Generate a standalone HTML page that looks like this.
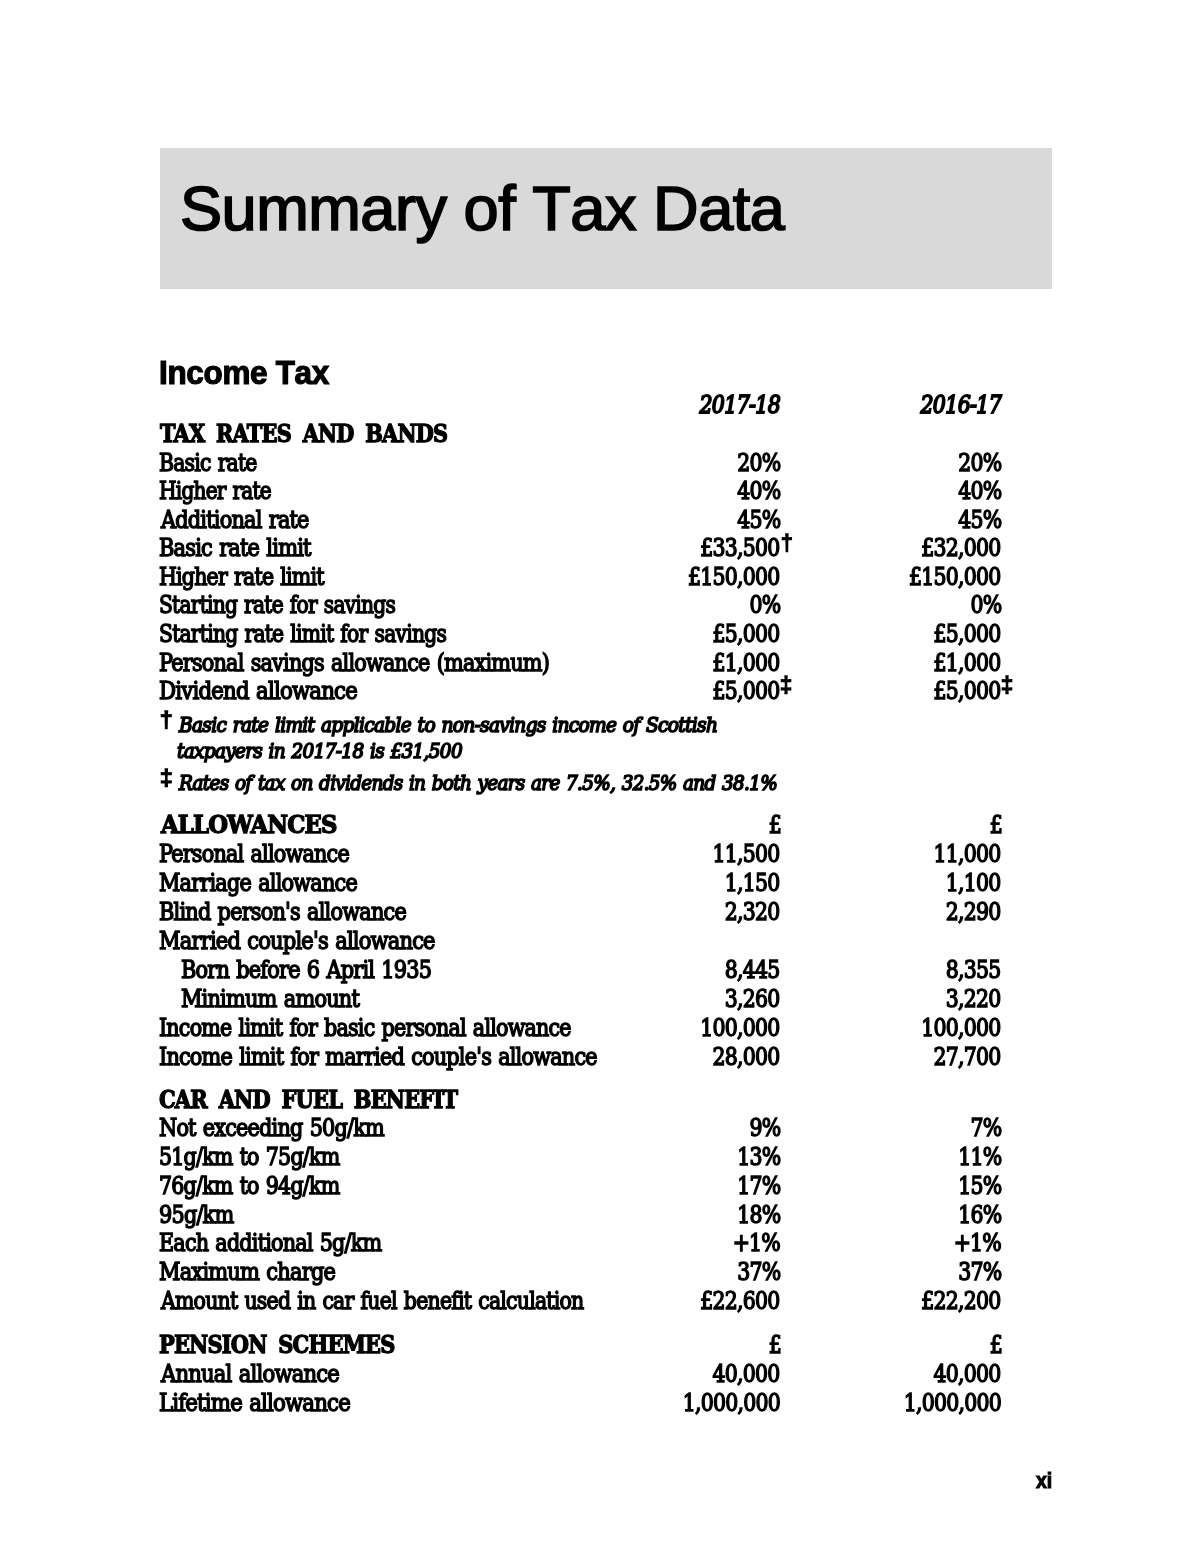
<!DOCTYPE html>
<html lang="en"><head><meta charset="utf-8"><title>Summary of Tax Data</title>
<style>
html,body{margin:0;padding:0;background:#fff;}
body{width:1200px;height:1553px;position:relative;overflow:hidden;color:#000;}
.banner{position:absolute;left:159.7px;top:148.3px;width:892px;height:140.7px;background:#d9d9d9;}
.t{position:absolute;white-space:pre;line-height:1;margin:0;padding:0;display:block;}
.l{transform-origin:0 0;}
.r{transform-origin:100% 0;}
.body{font-family:"DejaVu Serif", "Liberation Serif", serif;font-size:23.4px;font-weight:normal;font-style:normal;-webkit-text-stroke:1.45px #000;letter-spacing:-0.9px;word-spacing:1.5px;}
.bold{font-family:"DejaVu Serif", "Liberation Serif", serif;font-size:24.0px;font-weight:bold;font-style:normal;-webkit-text-stroke:1.3px #000;letter-spacing:-0.9px;word-spacing:6.0px;}
.ital{font-family:"DejaVu Serif", "Liberation Serif", serif;font-size:23.5px;font-weight:normal;font-style:italic;-webkit-text-stroke:1.8px #000;letter-spacing:-0.8px;word-spacing:1.5px;}
.fn{font-family:"DejaVu Serif", "Liberation Serif", serif;font-size:20.8px;font-weight:normal;font-style:italic;-webkit-text-stroke:1.7px #000;letter-spacing:-0.8px;word-spacing:1.5px;}
.title{font-family:"Liberation Sans", sans-serif;font-size:63.5px;font-weight:normal;font-style:normal;-webkit-text-stroke:1.7px #000;letter-spacing:-0.5px;word-spacing:0px;font-kerning:none;}
.h2{font-family:"Liberation Sans", sans-serif;font-size:32.3px;font-weight:bold;font-style:normal;-webkit-text-stroke:1.2px #000;letter-spacing:-0.3px;word-spacing:0px;font-kerning:none;}
.pg{font-family:"Liberation Sans", sans-serif;font-size:21.5px;font-weight:bold;font-style:normal;-webkit-text-stroke:1.1px #000;letter-spacing:0px;word-spacing:0px;}
.sym{font-family:"Liberation Sans", sans-serif;font-size:21px;font-weight:normal;font-style:normal;-webkit-text-stroke:1.5px #000;letter-spacing:0px;word-spacing:0px;}
</style></head><body>
<div class="banner"></div>
<h1 class="t l title" id="i0" style="left:179.56px;top:177.30px;transform:scaleX(0.9940);">Summary of Tax Data</h1>
<h2 class="t l h2" id="i1" style="left:159.34px;top:356.80px;transform:scaleX(0.9728);">Income Tax</h2>
<div class="t r ital" id="i2" style="right:420.33px;top:394.20px;transform:scaleX(0.8756);">2017-18</div>
<div class="t r ital" id="i3" style="right:199.23px;top:394.20px;transform:scaleX(0.8756);">2016-17</div>
<h3 class="t l bold" id="i4" style="left:160.16px;top:422.10px;transform:scaleX(0.8685);">TAX RATES AND BANDS</h3>
<div class="t l body" id="i5" style="left:159.36px;top:451.60px;transform:scaleX(0.8717);">Basic rate</div>
<div class="t r body" id="i6" style="right:420.05px;top:451.60px;transform:scaleX(0.8750);">20%</div>
<div class="t r body" id="i7" style="right:198.95px;top:451.60px;transform:scaleX(0.8750);">20%</div>
<div class="t l body" id="i8" style="left:159.36px;top:480.20px;transform:scaleX(0.8589);">Higher rate</div>
<div class="t r body" id="i9" style="right:420.05px;top:480.20px;transform:scaleX(0.8750);">40%</div>
<div class="t r body" id="i10" style="right:198.95px;top:480.20px;transform:scaleX(0.8750);">40%</div>
<div class="t l body" id="i11" style="left:161.14px;top:508.80px;transform:scaleX(0.8918);">Additional rate</div>
<div class="t r body" id="i12" style="right:420.05px;top:508.80px;transform:scaleX(0.8750);">45%</div>
<div class="t r body" id="i13" style="right:198.95px;top:508.80px;transform:scaleX(0.8750);">45%</div>
<div class="t l body" id="i14" style="left:159.35px;top:537.30px;transform:scaleX(0.8942);">Basic rate limit</div>
<div class="t r body" id="i15" style="right:420.35px;top:537.30px;transform:scaleX(0.8750);">£33,500</div>
<div class="t r body" id="i16" style="right:199.25px;top:537.30px;transform:scaleX(0.8750);">£32,000</div>
<div class="t l body" id="i17" style="left:159.36px;top:565.70px;transform:scaleX(0.8765);">Higher rate limit</div>
<div class="t r body" id="i18" style="right:420.35px;top:565.70px;transform:scaleX(0.8750);">£150,000</div>
<div class="t r body" id="i19" style="right:199.25px;top:565.70px;transform:scaleX(0.8750);">£150,000</div>
<div class="t l body" id="i20" style="left:159.36px;top:594.10px;transform:scaleX(0.8656);">Starting rate for savings</div>
<div class="t r body" id="i21" style="right:420.05px;top:594.10px;transform:scaleX(0.8750);">0%</div>
<div class="t r body" id="i22" style="right:198.95px;top:594.10px;transform:scaleX(0.8750);">0%</div>
<div class="t l body" id="i23" style="left:159.36px;top:623.20px;transform:scaleX(0.8692);">Starting rate limit for savings</div>
<div class="t r body" id="i24" style="right:420.35px;top:623.20px;transform:scaleX(0.8750);">£5,000</div>
<div class="t r body" id="i25" style="right:199.25px;top:623.20px;transform:scaleX(0.8750);">£5,000</div>
<div class="t l body" id="i26" style="left:159.36px;top:651.80px;transform:scaleX(0.8887);">Personal savings allowance (maximum)</div>
<div class="t r body" id="i27" style="right:420.35px;top:651.80px;transform:scaleX(0.8750);">£1,000</div>
<div class="t r body" id="i28" style="right:199.25px;top:651.80px;transform:scaleX(0.8750);">£1,000</div>
<div class="t l body" id="i29" style="left:159.35px;top:679.70px;transform:scaleX(0.9101);">Dividend allowance</div>
<div class="t r body" id="i30" style="right:420.35px;top:679.70px;transform:scaleX(0.8750);">£5,000</div>
<div class="t r body" id="i31" style="right:199.25px;top:679.70px;transform:scaleX(0.8750);">£5,000</div>
<div class="t l fn" id="i32" style="left:178.86px;top:714.50px;transform:scaleX(0.8958);">Basic rate limit applicable to non-savings income of Scottish</div>
<div class="t l fn" id="i33" style="left:177.07px;top:740.80px;transform:scaleX(0.8897);">taxpayers in 2017-18 is £31,500</div>
<div class="t l fn" id="i34" style="left:178.84px;top:773.40px;transform:scaleX(0.8857);">Rates of tax on dividends in both years are 7.5%, 32.5% and 38.1%</div>
<h3 class="t l bold" id="i35" style="left:161.17px;top:813.40px;transform:scaleX(0.9494);">ALLOWANCES</h3>
<div class="t r body" id="i36" style="right:419.48px;top:813.90px;transform:scaleX(0.8750);">£</div>
<div class="t r body" id="i37" style="right:198.38px;top:813.90px;transform:scaleX(0.8750);">£</div>
<div class="t l body" id="i38" style="left:159.36px;top:842.70px;transform:scaleX(0.8876);">Personal allowance</div>
<div class="t r body" id="i39" style="right:420.35px;top:842.70px;transform:scaleX(0.8750);">11,500</div>
<div class="t r body" id="i40" style="right:199.25px;top:842.70px;transform:scaleX(0.8750);">11,000</div>
<div class="t l body" id="i41" style="left:159.36px;top:871.60px;transform:scaleX(0.8908);">Marriage allowance</div>
<div class="t r body" id="i42" style="right:420.35px;top:871.60px;transform:scaleX(0.8750);">1,150</div>
<div class="t r body" id="i43" style="right:199.25px;top:871.60px;transform:scaleX(0.8750);">1,100</div>
<div class="t l body" id="i44" style="left:159.35px;top:900.70px;transform:scaleX(0.8915);">Blind person's allowance</div>
<div class="t r body" id="i45" style="right:420.35px;top:900.70px;transform:scaleX(0.8750);">2,320</div>
<div class="t r body" id="i46" style="right:199.25px;top:900.70px;transform:scaleX(0.8750);">2,290</div>
<div class="t l body" id="i47" style="left:159.35px;top:929.70px;transform:scaleX(0.8983);">Married couple's allowance</div>
<div class="t l body" id="i48" style="left:180.95px;top:958.70px;transform:scaleX(0.8914);">Born before 6 April 1935</div>
<div class="t r body" id="i49" style="right:420.35px;top:958.70px;transform:scaleX(0.8750);">8,445</div>
<div class="t r body" id="i50" style="right:199.25px;top:958.70px;transform:scaleX(0.8750);">8,355</div>
<div class="t l body" id="i51" style="left:180.95px;top:987.90px;transform:scaleX(0.8926);">Minimum amount</div>
<div class="t r body" id="i52" style="right:420.35px;top:987.90px;transform:scaleX(0.8750);">3,260</div>
<div class="t r body" id="i53" style="right:199.25px;top:987.90px;transform:scaleX(0.8750);">3,220</div>
<div class="t l body" id="i54" style="left:159.36px;top:1016.90px;transform:scaleX(0.8831);">Income limit for basic personal allowance</div>
<div class="t r body" id="i55" style="right:420.35px;top:1016.90px;transform:scaleX(0.8750);">100,000</div>
<div class="t r body" id="i56" style="right:199.25px;top:1016.90px;transform:scaleX(0.8750);">100,000</div>
<div class="t l body" id="i57" style="left:159.36px;top:1045.70px;transform:scaleX(0.8895);">Income limit for married couple's allowance</div>
<div class="t r body" id="i58" style="right:420.35px;top:1045.70px;transform:scaleX(0.8750);">28,000</div>
<div class="t r body" id="i59" style="right:199.25px;top:1045.70px;transform:scaleX(0.8750);">27,700</div>
<h3 class="t l bold" id="i60" style="left:159.29px;top:1088.40px;transform:scaleX(0.8715);">CAR AND FUEL BENEFIT</h3>
<div class="t l body" id="i61" style="left:159.36px;top:1117.10px;transform:scaleX(0.8888);">Not exceeding 50g/km</div>
<div class="t r body" id="i62" style="right:420.05px;top:1117.10px;transform:scaleX(0.8750);">9%</div>
<div class="t r body" id="i63" style="right:198.95px;top:1117.10px;transform:scaleX(0.8750);">7%</div>
<div class="t l body" id="i64" style="left:159.36px;top:1145.70px;transform:scaleX(0.8803);">51g/km to 75g/km</div>
<div class="t r body" id="i65" style="right:420.05px;top:1145.70px;transform:scaleX(0.8750);">13%</div>
<div class="t r body" id="i66" style="right:198.95px;top:1145.70px;transform:scaleX(0.8750);">11%</div>
<div class="t l body" id="i67" style="left:159.36px;top:1174.70px;transform:scaleX(0.8803);">76g/km to 94g/km</div>
<div class="t r body" id="i68" style="right:420.05px;top:1174.70px;transform:scaleX(0.8750);">17%</div>
<div class="t r body" id="i69" style="right:198.95px;top:1174.70px;transform:scaleX(0.8750);">15%</div>
<div class="t l body" id="i70" style="left:159.36px;top:1203.50px;transform:scaleX(0.8897);">95g/km</div>
<div class="t r body" id="i71" style="right:420.05px;top:1203.50px;transform:scaleX(0.8750);">18%</div>
<div class="t r body" id="i72" style="right:198.95px;top:1203.50px;transform:scaleX(0.8750);">16%</div>
<div class="t l body" id="i73" style="left:159.36px;top:1232.20px;transform:scaleX(0.8856);">Each additional 5g/km</div>
<div class="t r body" id="i74" style="right:420.05px;top:1232.20px;transform:scaleX(0.8750);">+1%</div>
<div class="t r body" id="i75" style="right:198.95px;top:1232.20px;transform:scaleX(0.8750);">+1%</div>
<div class="t l body" id="i76" style="left:159.35px;top:1260.90px;transform:scaleX(0.8967);">Maximum charge</div>
<div class="t r body" id="i77" style="right:420.05px;top:1260.90px;transform:scaleX(0.8750);">37%</div>
<div class="t r body" id="i78" style="right:198.95px;top:1260.90px;transform:scaleX(0.8750);">37%</div>
<div class="t l body" id="i79" style="left:161.11px;top:1289.90px;transform:scaleX(0.8753);">Amount used in car fuel benefit calculation</div>
<div class="t r body" id="i80" style="right:420.35px;top:1289.90px;transform:scaleX(0.8750);">£22,600</div>
<div class="t r body" id="i81" style="right:199.25px;top:1289.90px;transform:scaleX(0.8750);">£22,200</div>
<h3 class="t l bold" id="i82" style="left:159.29px;top:1333.20px;transform:scaleX(0.8718);">PENSION SCHEMES</h3>
<div class="t r body" id="i83" style="right:419.48px;top:1333.70px;transform:scaleX(0.8750);">£</div>
<div class="t r body" id="i84" style="right:198.38px;top:1333.70px;transform:scaleX(0.8750);">£</div>
<div class="t l body" id="i85" style="left:161.16px;top:1362.90px;transform:scaleX(0.9032);">Annual allowance</div>
<div class="t r body" id="i86" style="right:420.35px;top:1362.90px;transform:scaleX(0.8750);">40,000</div>
<div class="t r body" id="i87" style="right:199.25px;top:1362.90px;transform:scaleX(0.8750);">40,000</div>
<div class="t l body" id="i88" style="left:159.35px;top:1391.70px;transform:scaleX(0.9087);">Lifetime allowance</div>
<div class="t r body" id="i89" style="right:420.35px;top:1391.70px;transform:scaleX(0.8750);">1,000,000</div>
<div class="t r body" id="i90" style="right:199.25px;top:1391.70px;transform:scaleX(0.8750);">1,000,000</div>
<div class="t l pg" id="i91" style="left:1036.30px;top:1470.90px;transform:scaleX(0.9079);">xi</div>
<span class="t l sym" id="s0" style="font-size:22.63px;left:781.13px;top:531.87px;transform:scaleX(0.9351);">†</span>
<span class="t l sym" id="s1" style="font-size:21.88px;left:780.34px;top:673.97px;transform:scaleX(0.9903);">‡</span>
<span class="t l sym" id="s2" style="font-size:21.88px;left:1001.34px;top:673.97px;transform:scaleX(0.9903);">‡</span>
<span class="t l sym" id="s3" style="font-size:21.50px;left:160.43px;top:709.72px;transform:scaleX(1.0517);">†</span>
<span class="t l sym" id="s4" style="font-size:22.13px;left:160.41px;top:767.24px;transform:scaleX(1.0260);">‡</span>
</body></html>
